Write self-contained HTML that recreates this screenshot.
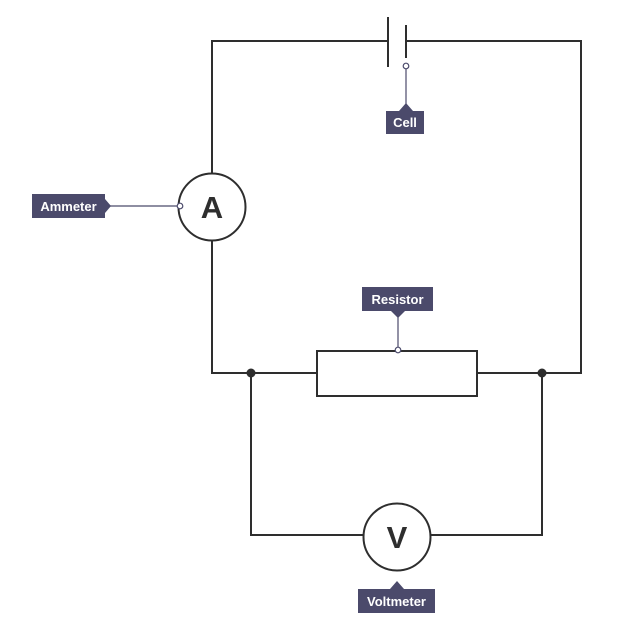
<!DOCTYPE html>
<html><head><meta charset="utf-8"><style>
html,body{margin:0;padding:0;background:#fff;}
svg{display:block;}
text{font-family:"Liberation Sans",Arial,sans-serif;font-weight:bold;}
</style></head><body>
<svg width="624" height="624" viewBox="0 0 624 624" xmlns="http://www.w3.org/2000/svg">
<g fill="none" stroke="#2e2e2e" stroke-width="2">
  <!-- main loop -->
  <polyline points="388,41 212,41 212,173"/>
  <polyline points="212,240 212,373 317,373"/>
  <polyline points="406,41 581,41 581,373 477,373"/>
  <!-- cell plates -->
  <line x1="388" y1="17" x2="388" y2="67"/>
  <line x1="406" y1="25" x2="406" y2="58"/>
  <!-- ammeter -->
  <circle cx="212" cy="207" r="33.5" fill="#fff"/>
  <!-- resistor -->
  <rect x="317" y="351" width="160" height="45" fill="#fff"/>
  <!-- voltmeter branch -->
  <polyline points="251,373 251,535 364,535"/>
  <polyline points="542,373 542,535 430,535"/>
  <circle cx="397" cy="537" r="33.5" fill="#fff"/>
</g>
<circle cx="251" cy="373" r="4.5" fill="#2e2e2e"/>
<circle cx="542" cy="373" r="4.5" fill="#2e2e2e"/>
<text x="212" y="218" font-size="31" text-anchor="middle" fill="#2e2e2e">A</text>
<text x="397" y="548" font-size="31" text-anchor="middle" fill="#2e2e2e">V</text>

<!-- label connectors -->
<g stroke="#4b4a6b" stroke-width="1.2" fill="none">
  <line x1="406" y1="68" x2="406" y2="105"/>
  <line x1="106" y1="206" x2="177" y2="206"/>
  <line x1="398" y1="312" x2="398" y2="347"/>
</g>
<g fill="#fff" stroke="#4b4a6b" stroke-width="1.2">
  <circle cx="406" cy="66" r="2.8"/>
  <circle cx="180" cy="206" r="2.8"/>
  <circle cx="398" cy="350" r="2.8"/>
</g>

<!-- labels -->
<g fill="#4b4a6b">
  <rect x="386" y="111" width="38" height="23"/>
  <polygon points="399,111 413,111 406,103"/>
  <rect x="32" y="194" width="73" height="24"/>
  <polygon points="105,199 105,213 111,206"/>
  <rect x="362" y="287" width="71" height="24"/>
  <polygon points="391,311 405,311 398,318"/>
  <rect x="358" y="589" width="77" height="24"/>
  <polygon points="390,589 404,589 397,581"/>
</g>
<g fill="#fff" font-size="13" text-anchor="middle">
  <text x="405" y="127">Cell</text>
  <text x="68.5" y="211">Ammeter</text>
  <text x="397.5" y="304">Resistor</text>
  <text x="396.5" y="606">Voltmeter</text>
</g>
</svg>
</body></html>
